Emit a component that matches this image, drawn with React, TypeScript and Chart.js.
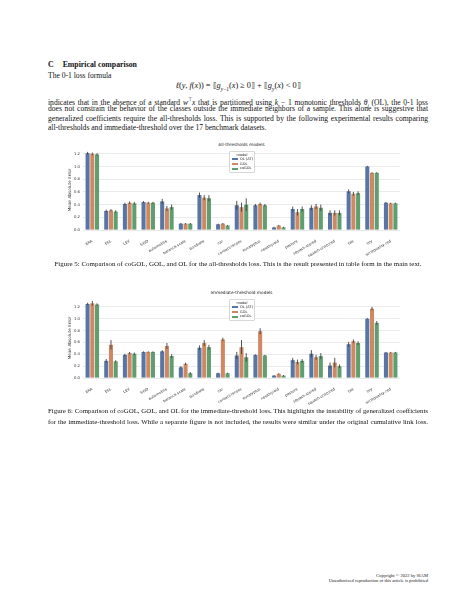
import React, { useEffect, useRef } from "react";
import { Chart, registerables, ChartConfiguration, Plugin } from "chart.js";

Chart.register(...registerables);

// Datasets on the x axis (both figures)
const datasets: string[] = [
  "ERA",
  "ESL",
  "LEV",
  "SWD",
  "automobile",
  "balance-scale",
  "bondrate",
  "car",
  "contact-lenses",
  "eucalyptus",
  "newthyroid",
  "pasture",
  "squash-stored",
  "squash-unstored",
  "tae",
  "toy",
  "winequality-red",
];

const models: string[] = ["OL (AT)", "GOL", "coGOL"];
const modelColors: string[] = ["#5875a4", "#cc8963", "#5f9e6e"];

// Figure 5: all-thresholds models (mean absolute error)
const atOL: number[] = [1.21, 0.3, 0.41, 0.44, 0.45, 0.1, 0.55, 0.09, 0.39, 0.39, 0.04, 0.33, 0.35, 0.27, 0.61, 1.0, 0.43];
const atGOL: number[] = [1.2, 0.31, 0.43, 0.43, 0.34, 0.1, 0.51, 0.1, 0.36, 0.41, 0.07, 0.28, 0.37, 0.27, 0.57, 0.9, 0.42];
const atCoGOL: number[] = [1.19, 0.29, 0.42, 0.43, 0.36, 0.1, 0.5, 0.07, 0.4, 0.39, 0.04, 0.33, 0.35, 0.27, 0.58, 0.9, 0.42];
const atOLErr: number[] = [0.02, 0.02, 0.02, 0.015, 0.04, 0.01, 0.04, 0.01, 0.07, 0.02, 0.01, 0.04, 0.04, 0.04, 0.03, 0.01, 0.01];
const atGOLErr: number[] = [0.02, 0.02, 0.02, 0.015, 0.04, 0.01, 0.04, 0.01, 0.07, 0.02, 0.01, 0.05, 0.04, 0.04, 0.03, 0.01, 0.01];
const atCoGOLErr: number[] = [0.02, 0.02, 0.02, 0.015, 0.04, 0.01, 0.05, 0.01, 0.1, 0.02, 0.01, 0.04, 0.05, 0.04, 0.03, 0.01, 0.01];

// Figure 6: immediate-threshold models
const itOL: number[] = [1.25, 0.29, 0.39, 0.44, 0.45, 0.18, 0.51, 0.08, 0.38, 0.39, 0.04, 0.3, 0.41, 0.21, 0.57, 1.0, 0.43];
const itGOL: number[] = [1.26, 0.56, 0.42, 0.44, 0.54, 0.24, 0.59, 0.65, 0.52, 0.79, 0.07, 0.27, 0.35, 0.26, 0.62, 1.17, 0.43];
const itCoGOL: number[] = [1.24, 0.28, 0.41, 0.44, 0.37, 0.08, 0.52, 0.08, 0.35, 0.38, 0.04, 0.29, 0.37, 0.2, 0.59, 0.93, 0.43];
const itOLErr: number[] = [0.02, 0.03, 0.02, 0.01, 0.02, 0.02, 0.04, 0.01, 0.06, 0.01, 0.01, 0.04, 0.06, 0.05, 0.04, 0.01, 0.01];
const itGOLErr: number[] = [0.04, 0.08, 0.02, 0.01, 0.05, 0.02, 0.05, 0.03, 0.12, 0.05, 0.01, 0.04, 0.04, 0.08, 0.03, 0.03, 0.01];
const itCoGOLErr: number[] = [0.02, 0.02, 0.02, 0.01, 0.03, 0.02, 0.04, 0.01, 0.07, 0.01, 0.01, 0.03, 0.05, 0.03, 0.03, 0.03, 0.01];

const yTicks: number[] = [0, 0.2, 0.4, 0.6, 0.8, 1.0, 1.2];

const SANS = '"DejaVu Sans", sans-serif';
const SERIF = '"Liberation Serif", "Times New Roman", serif';

const errorBars = (errors: number[][]): Plugin<"bar"> => ({
  id: "errorBars",
  afterDatasetsDraw(chart) {
    const ctx = chart.ctx;
    const y = chart.scales.y;
    ctx.save();
    ctx.strokeStyle = "#424242";
    ctx.lineWidth = 0.9;
    chart.data.datasets.forEach((ds, di) => {
      const meta = chart.getDatasetMeta(di);
      meta.data.forEach((bar, i) => {
        const v = ds.data[i] as number;
        const e = errors[di][i];
        ctx.beginPath();
        ctx.moveTo(bar.x, y.getPixelForValue(v - e));
        ctx.lineTo(bar.x, y.getPixelForValue(v + e));
        ctx.stroke();
      });
    });
    ctx.restore();
  },
});

type FigProps = {
  top: number;
  height: number;
  baseline: number;
  yMax: number;
  title: string;
  series: number[][];
  errors: number[][];
};

const BarFigure: React.FC<FigProps> = ({ top, height, baseline, yMax, title, series, errors }) => {
  const ref = useRef<HTMLCanvasElement>(null);

  useEffect(() => {
    if (!ref.current) return;
    const config: ChartConfiguration<"bar"> = {
      type: "bar",
      data: {
        labels: datasets,
        datasets: series.map((s, i) => ({
          label: models[i],
          data: s,
          backgroundColor: modelColors[i],
          borderWidth: 0,
          barPercentage: 0.86,
          categoryPercentage: 0.76,
        })),
      },
      options: {
        animation: false,
        responsive: false,
        layout: { padding: { top: 10, right: 40, bottom: 0, left: 26 } },
        plugins: { legend: { display: false }, tooltip: { enabled: false } },
        scales: {
          x: {
            grid: { display: false },
            border: { display: false },
            afterFit: (s) => {
              s.height = height - 10 - (baseline - top - 10);
            },
            ticks: {
              autoSkip: false,
              minRotation: 30,
              maxRotation: 30,
              padding: 1,
              color: "#333",
              font: { size: 3.7, family: SANS },
            },
          },
          y: {
            min: 0,
            max: yMax,
            afterFit: (s) => {
              s.width = 17;
            },
            afterBuildTicks: (s) => {
              s.ticks = yTicks.map((v) => ({ value: v }));
            },
            ticks: {
              padding: 3,
              color: "#333",
              font: { size: 3.8, family: SANS },
              callback: (v) => Number(v).toFixed(1),
            },
            grid: { color: "#e4e4e4", lineWidth: 0.8, drawTicks: false },
            border: { display: false },
            title: {
              display: true,
              text: "Mean Absolute Error",
              color: "#333",
              font: { size: 4.2, family: SANS },
              padding: { top: 1, bottom: 0 },
            },
          },
        },
      },
      plugins: [errorBars(errors)],
    };
    const chart = new Chart(ref.current, config);
    return () => chart.destroy();
  }, []);

  return (
    <>
      <div
        style={{
          position: "absolute",
          left: 83,
          width: 317,
          top: top + 2,
          textAlign: "center",
          fontFamily: SANS,
          fontSize: 4.3,
          color: "#222",
          lineHeight: "5px",
        }}
      >
        {title}
      </div>
      <canvas
        ref={ref}
        width={400}
        height={height}
        style={{ position: "absolute", left: 40, top: top + 0, width: 400, height }}
      ></canvas>
      <div
        style={{
          position: "absolute",
          left: 229,
          top: top + 10.5,
          width: 22,
          padding: "1px 1px 1.5px 1px",
          border: "0.6px solid #d8d8d8",
          borderRadius: 1,
          background: "rgba(255,255,255,0.85)",
          fontFamily: SANS,
          fontSize: 3.5,
          lineHeight: "4.6px",
          color: "#222",
        }}
      >
        <div style={{ textAlign: "center" }}>model</div>
        {models.map((m, i) => (
          <div key={m} style={{ display: "flex", alignItems: "center", gap: 2, paddingLeft: 1 }}>
            <span style={{ display: "inline-block", width: 6, height: 2, background: modelColors[i] }}></span>
            <span>{m}</span>
          </div>
        ))}
      </div>
    </>
  );
};

const lineStyle = (top: number, justify: boolean): React.CSSProperties => ({
  position: "absolute",
  left: 48,
  width: 380,
  top,
  whiteSpace: "nowrap",
  textAlign: justify ? "justify" : "left",
  textAlignLast: justify ? "justify" : "left",
  fontFamily: SERIF,
  fontSize: 7.6,
  lineHeight: "9px",
  color: "#111",
});

const App: React.FC = () => {
  return (
    <div style={{ position: "absolute", left: 0, top: 0, width: 474, height: 613, background: "#fff", overflow: "hidden" }}>
      <div style={{ ...lineStyle(60, false), fontWeight: "bold", fontSize: 7.8 }}>
        C<span style={{ display: "inline-block", width: 9 }}></span>Empirical comparison
      </div>
      <div style={lineStyle(71, false)}>The 0-1 loss formula</div>
      <div style={{ ...lineStyle(80.5, false), textAlign: "center", textAlignLast: "center", fontSize: 8.3 }}>
        <i>ℓ</i>(<i>y</i>, <i>f</i>(<i>x</i>)) = ⟦<i>g</i>
        <sub style={{ fontSize: 5.4 }}>
          <i>y</i>−1
        </sub>
        (<i>x</i>) ≥ 0⟧ + ⟦<i>g</i>
        <sub style={{ fontSize: 5.4 }}>
          <i>y</i>
        </sub>
        (<i>x</i>) &lt; 0⟧
      </div>
      <div style={lineStyle(94.5, true)}>
        indicates that in the absence of a standard <i>w</i>
        <sup style={{ fontSize: 5 }}>⊤</sup>
        <i>x</i> that is partitioned using <i>k</i> − 1 monotonic thresholds <i>θ</i>
        <sub style={{ fontSize: 5 }}>
          <i>j</i>
        </sub>{" "}
        (OL), the 0-1 loss
      </div>
      <div style={lineStyle(104.3, true)}>
        does not constrain the behavior of the classes outside the immediate neighbors of a sample. This alone is suggestive that
      </div>
      <div style={lineStyle(113.8, true)}>
        generalized coefficients require the all-thresholds loss. This is supported by the following experimental results comparing
      </div>
      <div style={lineStyle(123.3, false)}>all-thresholds and immediate-threshold over the 17 benchmark datasets.</div>

      <BarFigure
        top={140}
        height={122}
        baseline={230}
        yMax={1.26}
        title="All-thresholds models"
        series={[atOL, atGOL, atCoGOL]}
        errors={[atOLErr, atGOLErr, atCoGOLErr]}
      />
      <div style={{ ...lineStyle(260, false), textAlign: "center", textAlignLast: "center", fontSize: 6.95 }}>
        Figure 5: Comparison of coGOL, GOL, and OL for the all-thresholds loss. This is the result presented in table form in the main text.
      </div>

      <BarFigure
        top={288}
        height={120}
        baseline={378}
        yMax={1.35}
        title="Immediate-threshold models"
        series={[itOL, itGOL, itCoGOL]}
        errors={[itOLErr, itGOLErr, itCoGOLErr]}
      />
      <div style={{ ...lineStyle(405.5, true), fontSize: 6.85 }}>
        Figure 6: Comparison of coGOL, GOL, and OL for the immediate-threshold loss. This highlights the instability of generalized coefficients
      </div>
      <div style={{ ...lineStyle(416.5, true), fontSize: 6.85 }}>
        for the immediate-threshold loss. While a separate figure is not included, the results were similar under the original cumulative link loss.
      </div>

      <div
        style={{
          position: "absolute",
          right: 46,
          top: 573,
          textAlign: "right",
          fontFamily: SERIF,
          fontSize: 4.6,
          lineHeight: "5px",
          color: "#222",
        }}
      >
        <div>Copyright © 2022 by SIAM</div>
        <div>Unauthorized reproduction of this article is prohibited</div>
      </div>
    </div>
  );
};

export default App;
